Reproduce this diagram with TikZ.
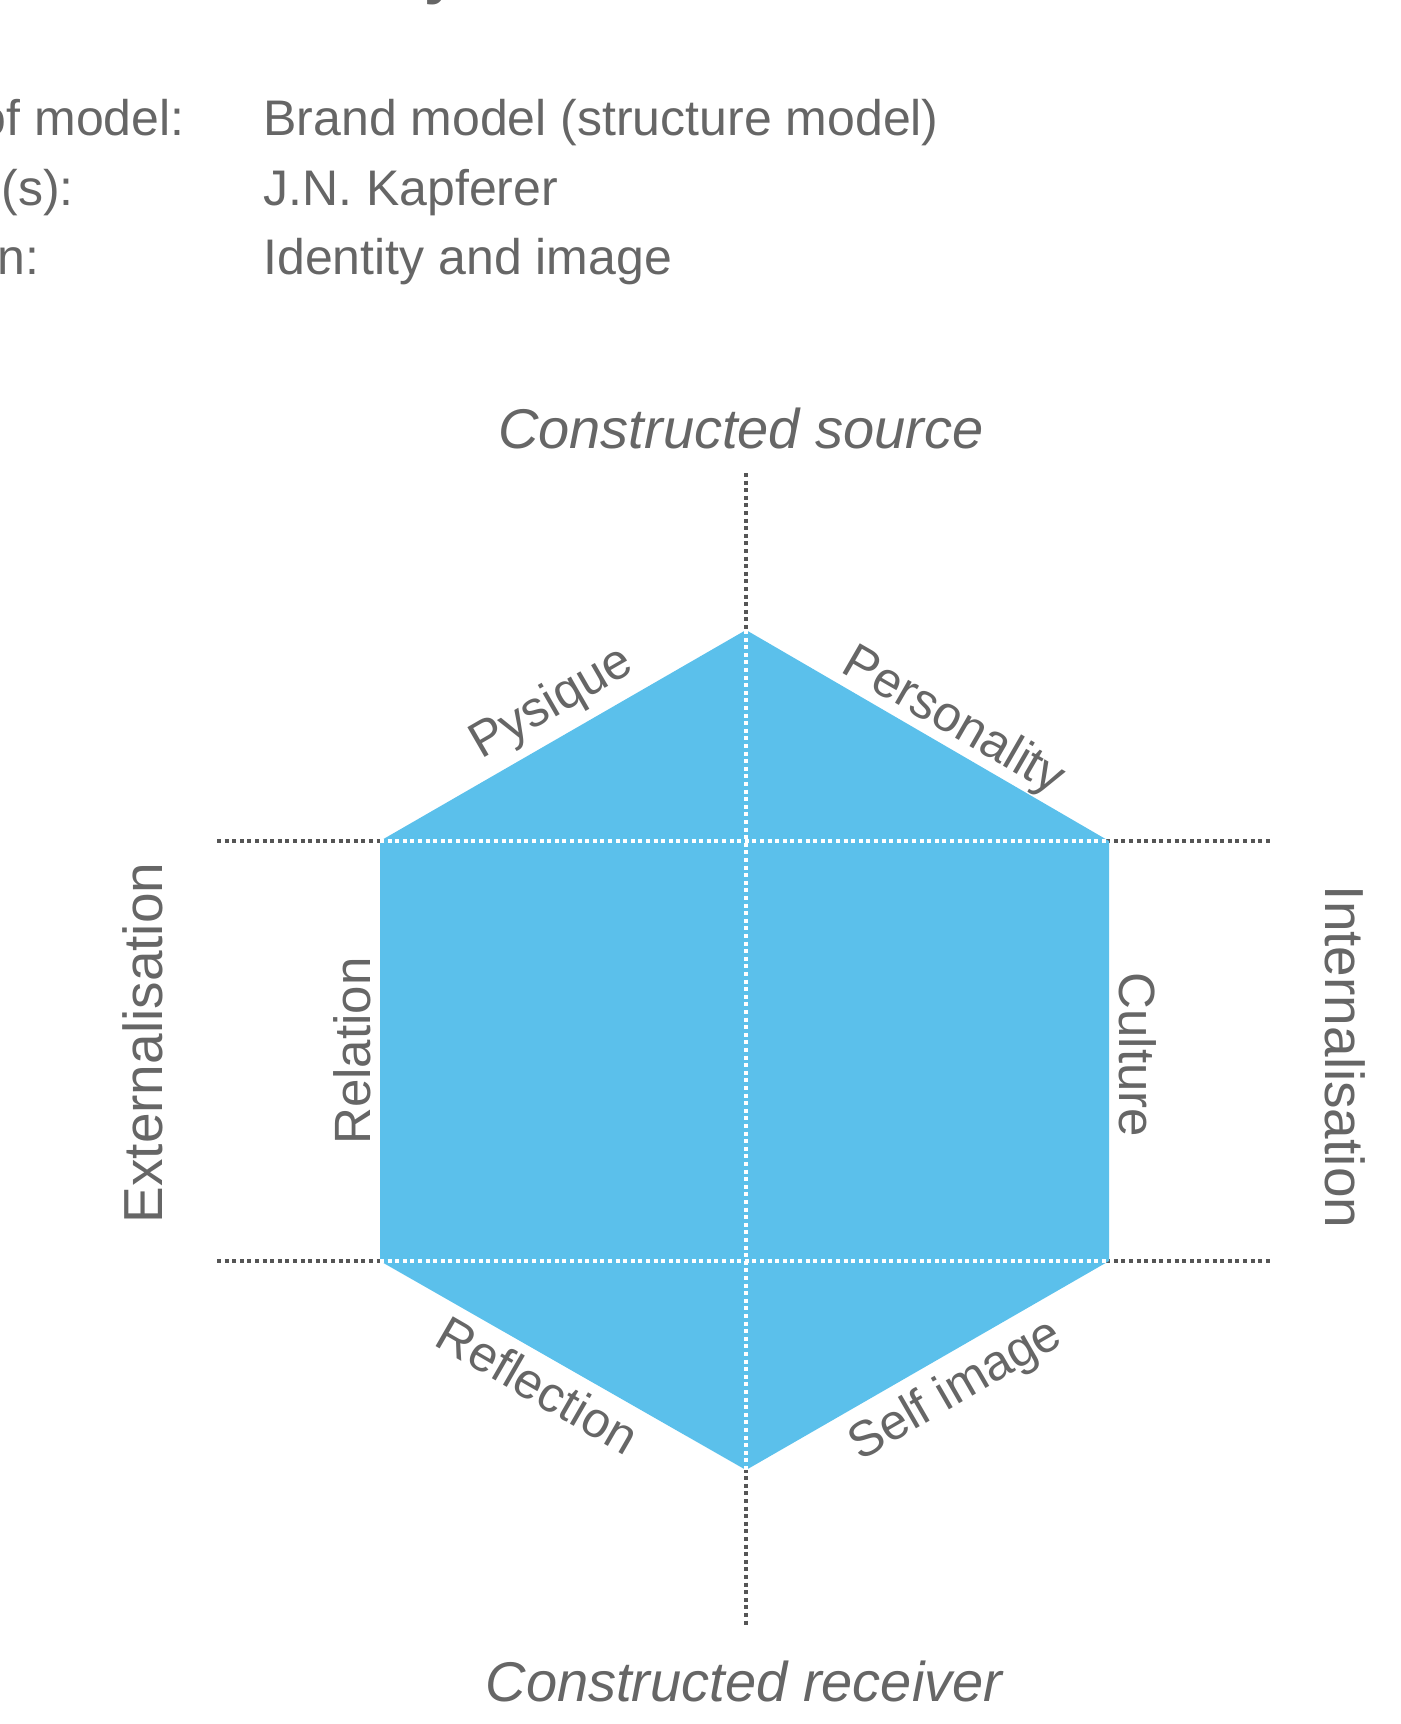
\documentclass[tikz,border=0pt]{standalone}
\usepackage{fontspec}
\setmainfont{Liberation Sans}
\usepackage{tikz}

\definecolor{prismblue}{RGB}{91,192,235}
\definecolor{labelgray}{RGB}{102,102,102}
\definecolor{dotgray}{RGB}{85,85,85}

\begin{document}
\begin{tikzpicture}[x=0.5pt, y=-0.5pt,
    headtext/.style={font=\fontsize{25}{30}\selectfont, text=labelgray, inner sep=0pt},
    axistext/.style={font=\fontsize{27.5}{33}\selectfont, text=labelgray, inner sep=0pt},
    facetext/.style={font=\fontsize{25}{30}\selectfont, text=labelgray, inner sep=0pt},
    dotline/.style={dotgray, line width=2.1pt, dash pattern=on 2pt off 1.8pt},
    dotwhite/.style={white, line width=2.1pt, dash pattern=on 2pt off 1.8pt}]
  \useasboundingbox (0,0) rectangle (1401,1724);
  \clip (0,0) rectangle (1401,1724);

  \node[headtext, font=\bfseries\fontsize{30}{36}\selectfont, anchor=base west] (titlecut) at (424,-7) {y};
  \node[headtext, anchor=base east] (typelbl) at (185,135) {of model:};
  \node[headtext, anchor=base east] (authorlbl) at (74,205) {(s):};
  \node[headtext, anchor=base east] (fieldlbl) at (40,274) {n:};
  \node[headtext, anchor=base west] (typeval) at (263,135) {Brand model (structure model)};
  \node[headtext, anchor=base west] (authorval) at (263,205) {J.N. Kapferer};
  \node[headtext, anchor=base west] (fieldval) at (263,274) {Identity and image};

  \coordinate (top) at (746,630);
  \coordinate (lt) at (380,841);
  \coordinate (rt) at (1109,841);
  \coordinate (rb) at (1109,1261);
  \coordinate (bot) at (746,1470);
  \coordinate (lb) at (380,1261);
  \coordinate (vtop) at (746,473);
  \coordinate (vbot) at (746,1628);
  \coordinate (hl1) at (217,841);
  \coordinate (hr1) at (1272,841);
  \coordinate (hl2) at (217,1261);
  \coordinate (hr2) at (1272,1261);

  \draw[dotline] (vtop) -- (vbot);
  \draw[dotline] (hl1) -- (hr1);
  \draw[dotline] (hl2) -- (hr2);
  \fill[prismblue] (top) -- (rt) -- (rb) -- (bot) -- (lb) -- (lt) -- cycle;
  \draw[dotwhite] (top) -- (bot);
  \draw[dotwhite] (lt) -- (rt);
  \draw[dotwhite] (lb) -- (rb);

  \node[axistext, font=\itshape\fontsize{28}{33}\selectfont, anchor=base] (source) at (741,448) {Constructed source};
  \node[axistext, font=\itshape\fontsize{28}{33}\selectfont, anchor=base] (receiver) at (744,1701) {Constructed receiver};
  \node[axistext, rotate=90, anchor=base] (extern) at (162,1043) {Externalisation};
  \node[axistext, rotate=-90, anchor=base] (intern) at (1325,1057) {Internalisation};

  \node[facetext, rotate=30] (physique) at (552,704) {Pysique};
  \node[facetext, rotate=-30] (personality) at (953,722) {Personality};
  \node[facetext, font=\fontsize{25.5}{30}\selectfont, rotate=90, anchor=base] (relation) at (370,1051) {Relation};
  \node[facetext, font=\fontsize{25.5}{30}\selectfont, rotate=-90, anchor=base] (culture) at (1119,1055) {Culture};
  \node[facetext, rotate=-30] (reflection) at (538,1385) {Reflection};
  \node[facetext, rotate=30] (selfimage) at (956,1391) {Self image};
\end{tikzpicture}
\end{document}
